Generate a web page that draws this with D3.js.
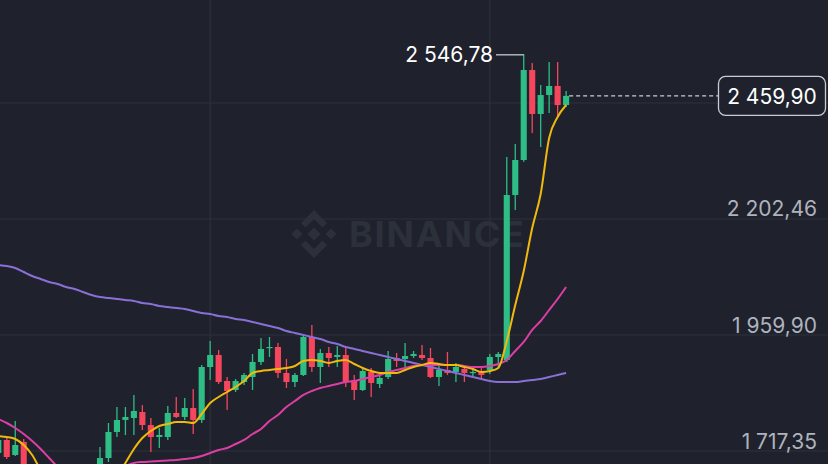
<!DOCTYPE html>
<html lang="en">
<head>
<meta charset="UTF-8">
<title>Candles</title>
<script src="https://d3js.org/d3.v7.min.js"></script>
<style>
    html, body { margin: 0; padding: 0; background: #1f222d; overflow: hidden; }
    svg { display: block; font-family: Inter, "Noto Sans", sans-serif; }
    .grid line { stroke: #2d313c; stroke-width: 1.2px; }
    .tick-label { fill: #aeb3bd; font-size: 21px; }
</style>
</head>
<body>
<svg id="chart" width="828" height="464"></svg>
<script>
    // candle data
    let open  = [1713.2,1740.4,1709.0,1736.2,1667.0,1650.0,1662.0,1628.0,1638.0,1630.0,1652.0,1646.0,
                 1686.0,1702.7,1757.1,1782.2,1786.4,1798.9,1771.7,1746.6,1746.6,1796.8,1788.5,1807.3,
                 1782.2,1893.0,1918.1,1863.7,1844.9,1861.6,1872.1,1903.5,1932.7,1934.8,1880.5,1861.6,
                 1876.3,1955.7,1893.0,1922.3,1913.9,1918.1,1865.8,1844.9,1882.6,1857.5,1872.1,1911.8,
                 1909.7,1916.0,1918.1,1911.8,1872.1,1886.7,1882.6,1888.8,1880.5,1882.6,1886.7,1913.9,
                 1907.6,2252.6,2325.8,2514.0,2422.0,2461.7,2480.6,2440.8];
    let high  = [1744.6,1746.6,1780.1,1742.5,1675.0,1672.0,1668.0,1645.0,1652.0,1660.0,1670.0,1680.0,
                 1725.7,1775.9,1809.4,1809.4,1834.5,1813.6,1786.4,1765.5,1811.5,1830.3,1828.2,1847.0,
                 1897.2,1947.4,1928.6,1872.1,1867.9,1880.5,1920.2,1953.6,1955.7,1943.2,1909.7,1880.5,
                 1962.0,1980.8,1930.7,1934.8,1936.9,1934.8,1876.3,1888.8,1890.9,1876.3,1926.5,1922.3,
                 1943.2,1926.5,1939.0,1932.7,1895.1,1924.4,1901.4,1895.1,1890.9,1895.1,1920.2,1924.4,
                 2332.1,2359.3,2546.78,2528.6,2482.6,2530.7,2530.7,2470.1];
    let low   = [1709.0,1700.6,1706.9,1656.7,1640.0,1635.0,1620.0,1610.0,1622.0,1625.0,1640.0,1642.0,
                 1677.6,1694.4,1746.6,1750.8,1750.8,1761.3,1715.3,1723.6,1740.4,1786.4,1782.2,1752.9,
                 1775.9,1865.8,1857.5,1803.1,1840.7,1855.4,1844.9,1897.2,1913.9,1870.0,1849.1,1851.2,
                 1874.2,1882.6,1859.6,1893.0,1893.0,1851.2,1824.0,1842.8,1830.3,1849.1,1867.9,1893.0,
                 1893.0,1911.8,1907.6,1870.0,1853.3,1876.3,1861.6,1861.6,1874.2,1870.0,1878.4,1890.9,
                 1903.5,2221.3,2322.0,2382.3,2353.0,2424.1,2415.7,2436.6];
    let close = [1740.4,1704.8,1729.9,1667.2,1650.0,1662.0,1628.0,1638.0,1630.0,1652.0,1646.0,1672.0,
                 1702.7,1757.1,1782.2,1788.5,1801.0,1771.7,1746.6,1750.8,1796.8,1788.5,1807.3,1782.2,
                 1893.0,1918.1,1861.6,1842.8,1863.7,1876.3,1903.5,1930.7,1934.8,1880.5,1861.6,1876.3,
                 1955.7,1893.0,1922.3,1911.8,1918.1,1861.6,1844.9,1884.6,1859.6,1870.0,1909.7,1905.6,
                 1916.0,1920.2,1911.8,1872.1,1886.7,1880.5,1893.0,1880.5,1882.6,1876.3,1913.9,1920.2,
                 2252.6,2325.8,2514.0,2422.0,2461.7,2480.6,2440.8,2459.90];

    // moving averages
    let ma7  = [1748.7,1746.6,1742.5,1729.9,1709.0,1677.6,1656.7,1635.8,1623.3,1614.9,1610.7,1610.7,
                1619.1,1637.9,1665.1,1692.3,1721.6,1744.6,1759.2,1769.6,1773.8,1778.0,1778.0,1775.9,
                1794.7,1817.7,1830.3,1840.7,1851.2,1863.7,1880.5,1884.6,1886.7,1888.8,1890.9,1895.1,
                1905.6,1907.6,1905.6,1901.4,1905.6,1907.6,1899.3,1890.9,1884.6,1880.5,1880.5,1880.5,
                1886.7,1893.0,1897.2,1901.4,1899.3,1897.2,1897.2,1893.0,1888.8,1882.6,1884.6,1890.9,
                1947.4,2022.6,2093.7,2183.6,2254.7,2371.8,2415.7,2440.8];
    let ma25 = [1784.3,1775.9,1765.5,1752.9,1738.3,1721.6,1702.7,1683.9,1665.1,1654.6,1652.5,1654.6,
                1660.9,1669.3,1677.6,1686.0,1692.3,1694.4,1695.4,1696.5,1697.5,1698.6,1700.6,1702.7,
                1706.9,1713.2,1719.5,1723.6,1732.0,1740.4,1752.9,1763.4,1780.1,1792.6,1809.4,1821.9,
                1834.5,1842.8,1849.1,1853.3,1857.5,1861.6,1863.7,1867.9,1872.1,1876.3,1882.6,1886.7,
                1890.9,1895.1,1897.2,1897.2,1897.2,1897.2,1897.2,1895.1,1893.0,1893.0,1895.1,1899.3,
                1907.6,1926.5,1945.3,1970.4,1989.2,2012.2,2035.2,2060.3];
    let ma99 = [2106.3,2104.2,2100.0,2091.6,2083.3,2077.0,2070.7,2066.6,2060.3,2056.1,2049.8,2043.6,
                2039.4,2037.3,2035.2,2033.1,2031.0,2026.8,2024.7,2020.5,2018.4,2016.4,2014.3,2010.1,
                2005.9,2003.8,1999.6,1997.5,1993.4,1991.3,1987.1,1982.9,1978.7,1974.6,1968.3,1964.1,
                1959.9,1955.7,1951.6,1945.3,1941.1,1934.8,1930.7,1926.5,1922.3,1918.1,1913.9,1909.7,
                1905.6,1901.4,1897.2,1893.0,1888.8,1884.6,1880.5,1876.3,1872.1,1867.9,1863.7,1861.6,
                1861.6,1861.6,1863.7,1865.8,1867.9,1872.1,1876.3,1880.5];

    let priceTicks = [1717.35, 1959.90, 2202.46, 2445.01];
    let timeGridIdx = [25, 58];
    let lastPrice = 2459.90;
    let highPrice = 2546.78;
    let highIdx = 62;

    let W = 828, H = 464;
    let svg = d3.select('#chart');

    let locale = d3.formatLocale({decimal: ",", thousands: " ", grouping: [3], currency: ["", ""]});
    let fmt = locale.format(",.2f");

    let x = d3.scaleLinear().domain([0, close.length - 1]).range([-1.7, 566.1]);
    let y = d3.scaleLinear().domain([priceTicks[0], priceTicks[3]]).range([451, 103]);
    let step = x(1) - x(0);
    let bodyW = step * 0.72;

    // grid
    let grid = svg.append('g').attr('class', 'grid');
    grid.selectAll('line.h').data(priceTicks).enter().append('line').attr('class', 'h')
        .attr('x1', 0).attr('x2', W).attr('y1', d => y(d)).attr('y2', d => y(d));
    grid.selectAll('line.v').data(timeGridIdx).enter().append('line').attr('class', 'v')
        .attr('y1', 0).attr('y2', H).attr('x1', d => x(d)).attr('x2', d => x(d));

    // watermark
    let wm = svg.append('g').attr('transform', 'translate(314,234)').attr('fill', '#2c303b');
    let diamond = (cx, cy, r) => `M${cx},${cy - r}L${cx + r},${cy}L${cx},${cy + r}L${cx - r},${cy}Z`;
    wm.append('path').attr('d', diamond(0, 0, 6.5));
    wm.append('path').attr('d', diamond(-17, 0, 5.5));
    wm.append('path').attr('d', diamond(17, 0, 5.5));
    // chevrons top and bottom
    wm.append('path').attr('d', 'M0,-24L13,-11L8.5,-6.5L0,-15L-8.5,-6.5L-13,-11Z');
    wm.append('path').attr('d', 'M0,24L13,11L8.5,6.5L0,15L-8.5,6.5L-13,11Z');
    svg.append('text').attr('x', 349).attr('y', 247)
        .attr('fill', '#2c303b').attr('font-size', 36).attr('font-weight', 700)
        .attr('letter-spacing', 1.8).text('BINANCE');

    // price labels (the top one sits behind the last price box)
    svg.selectAll('text.tick-label').data(priceTicks.slice(0, 3)).enter().append('text')
        .attr('class', 'tick-label').attr('text-anchor', 'end')
        .attr('x', 817).attr('y', d => y(d) - 2.5).text(d => fmt(d));

    let idx = d3.range(close.length);

    // candles
    let up = '#2ebd85', down = '#f6465d';
    let color = i => close[i] >= open[i] ? up : down;
    let cg = svg.append('g');
    cg.selectAll('line.wick').data(idx).enter().append('line')
        .attr('x1', i => x(i)).attr('x2', i => x(i))
        .attr('y1', i => y(high[i])).attr('y2', i => y(low[i]))
        .attr('stroke', color).attr('stroke-width', 1.3);
    cg.selectAll('rect').data(idx).enter().append('rect')
        .attr('x', i => x(i) - bodyW / 2).attr('width', bodyW)
        .attr('y', i => y(Math.max(open[i], close[i])))
        .attr('height', i => Math.max(1.2, Math.abs(y(open[i]) - y(close[i]))))
        .attr('fill', color);

    // moving averages
    let maLine = arr => d3.line().x(i => x(i)).y(i => y(arr[i])).curve(d3.curveMonotoneX)(idx);
    svg.append('path').attr('d', maLine(ma99)).attr('fill', 'none').attr('stroke', '#8a6fd6').attr('stroke-width', 2);
    svg.append('path').attr('d', maLine(ma25)).attr('fill', 'none').attr('stroke', '#dc3ea4').attr('stroke-width', 2);
    svg.append('path').attr('d', maLine(ma7)).attr('fill', 'none').attr('stroke', '#f0b90b').attr('stroke-width', 2);

    // highest price marker
    let hy = y(highPrice);
    svg.append('path').attr('d', `M${x(highIdx)},${hy + 0.5}L496,${hy + 0.5}`)
        .attr('stroke', '#d6d9de').attr('stroke-width', 1.2).attr('fill', 'none');
    svg.append('text').attr('x', 493).attr('y', hy + 8).attr('text-anchor', 'end')
        .attr('fill', '#ffffff').attr('font-size', 21).text(fmt(highPrice));

    // last price line + box
    let ly = y(lastPrice);
    svg.append('line').attr('x1', x(close.length - 1) + bodyW / 2).attr('x2', 718)
        .attr('y1', ly).attr('y2', ly)
        .attr('stroke', '#c9ccd2').attr('stroke-width', 1.2).attr('stroke-dasharray', '4,3');
    svg.append('rect').attr('x', 718.5).attr('y', ly - 19.5).attr('width', 107).attr('height', 39)
        .attr('rx', 7).attr('fill', '#1f222d')
        .attr('stroke', '#c9ccd2').attr('stroke-width', 1.3);
    svg.append('text').attr('x', 772).attr('y', ly + 8).attr('text-anchor', 'middle')
        .attr('fill', '#ffffff').attr('font-size', 21).text(fmt(lastPrice));
</script>
</body>
</html>
